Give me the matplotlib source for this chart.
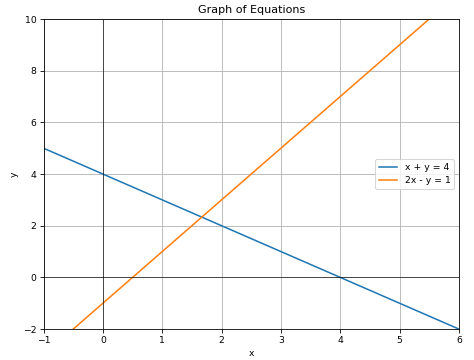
import matplotlib
matplotlib.use("Agg")
import matplotlib.pyplot as plt

x_line1 = [-1, 6]
y_line1 = [5, -2]
x_line2 = [-1, 6]
y_line2 = [-3, 11]
labels = ["x + y = 4", "2x - y = 1"]

plt.rcParams["font.size"] = 9
dpi = 74
fig = plt.figure(figsize=(474 / dpi, 360 / dpi), dpi=dpi)
ax = fig.add_axes([0.092, 0.086, 0.876, 0.861])
ax.plot(x_line1, y_line1, label=labels[0], color="#1f77b4")
ax.plot(x_line2, y_line2, label=labels[1], color="#ff7f0e")
ax.axhline(0, color="black", linewidth=0.6)
ax.axvline(0, color="black", linewidth=0.6)
ax.set_xlim(-1, 6)
ax.set_ylim(-2, 10)
ax.grid(True)
ax.set_xlabel("x")
ax.set_ylabel("y")
ax.set_title("Graph of Equations", fontsize=10.8)
ax.legend(loc="center right")
fig.savefig("out.png", dpi=dpi)
